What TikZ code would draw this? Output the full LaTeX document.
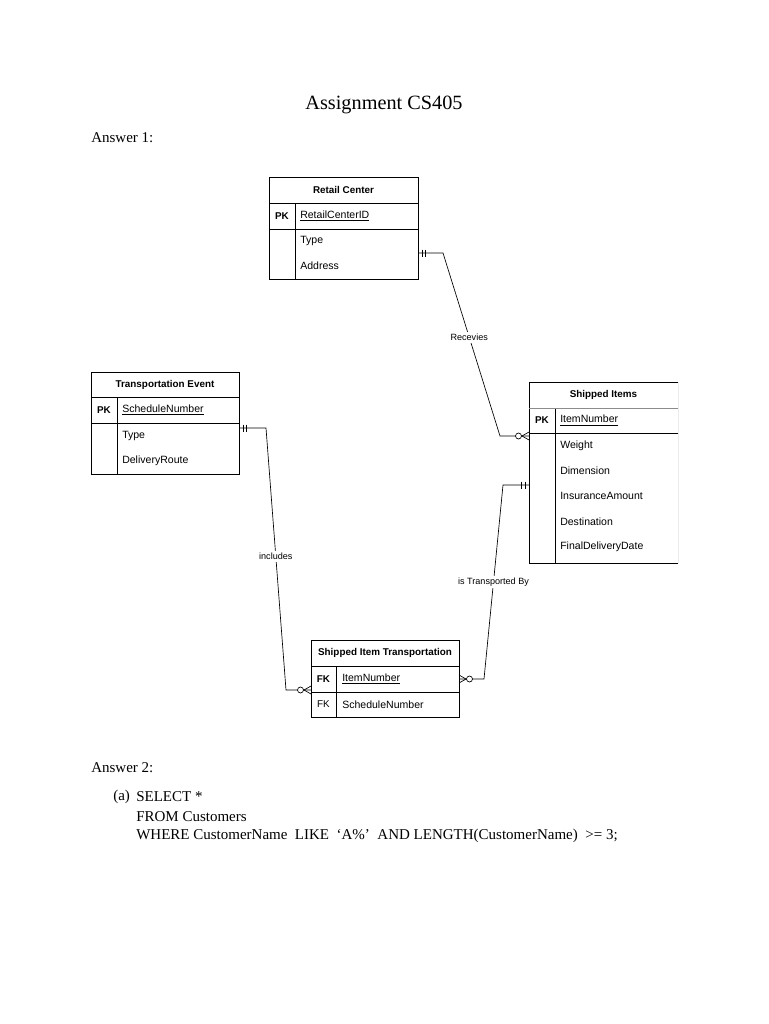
\documentclass[tikz,border=0pt]{standalone}
\usepackage{fontspec}
\setmainfont{Liberation Serif}
\setsansfont{Liberation Sans}
\usetikzlibrary{calc}

\tikzset{
    entity/.style={line width=0.6pt},
    head/.style={font=\sffamily\bfseries\fontsize{7.4}{9}\selectfont, inner sep=0pt},
    key/.style={font=\sffamily\bfseries\fontsize{7.4}{9}\selectfont, inner sep=0pt},
    attr/.style={font=\sffamily\fontsize{7.9}{9}\selectfont, anchor=west, inner sep=0pt},
    body/.style={font=\fontsize{11.25}{14}\selectfont, anchor=west, inner sep=0pt},
    rel/.style={line width=0.5pt},
    rlabel/.style={font=\sffamily\fontsize{6.8}{8}\selectfont, fill=white, inner sep=1.5pt},
    % mandatory one
    pics/onemark/.style={code={
        \draw[rel] (4,-3.5) -- (4,3.5) (7.5,-3.5) -- (7.5,3.5);
    }},
    % zero or many
    pics/manymark/.style={code={
        \draw[rel] (0,-4) -- (7,0) -- (0,4);
        \draw[rel, fill=white] (10.5,0) circle (3);
    }},
}

\begin{document}
\begin{tikzpicture}[x=0.75pt, y=-0.75pt]
    \useasboundingbox[fill=white] (0,0) rectangle (768,1024);

    \node (title) at (384,105) {\fontsize{15.2}{18}\selectfont Assignment CS405};
    \node[body] (ans1) at (91,138) {Answer 1:};

    % Retail Center
    \draw[entity] (269,177) rectangle (418,279);
    \draw[entity] (269,203) -- (418,203) (269,229) -- (418,229) (295,203) -- (295,279);
    \node[head] (rc) at (343.5,190) {Retail Center};
    \node[key] at (282,216) {PK};
    \node[attr] at (300,216) {\underline{RetailCenterID}};
    \node[attr] at (300,241) {Type};
    \node[attr] at (300,266) {Address};
    \coordinate (rc-east) at (418,253);

    % Transportation Event
    \draw[entity] (91,372) rectangle (239,474);
    \draw[entity] (91,397) -- (239,397) (91,423) -- (239,423) (117,397) -- (117,474);
    \node[head] (te) at (165,384.5) {Transportation Event};
    \node[key] at (104,410) {PK};
    \node[attr] at (122,410) {\underline{ScheduleNumber}};
    \node[attr] at (122,436) {Type};
    \node[attr] at (122,461) {DeliveryRoute};
    \coordinate (te-east) at (239,428);

    % Shipped Items
    \draw[entity] (678,382) -- (529,382) -- (529,563) -- (678,563);
    \draw[black!8, line width=0.6pt] (678,382) -- (678,563);
    \draw[entity] (529,433) -- (678,433) (555,408) -- (555,563);
    \draw[entity, black!45] (529,408) -- (678,408);
    \node[head] (si) at (603.5,395) {Shipped Items};
    \node[key] at (542,420.5) {PK};
    \node[attr] at (560,420.5) {\underline{ItemNumber}};
    \foreach \y/\t in {446/Weight, 471/Dimension, 496/InsuranceAmount,
                       522/Destination, 547/FinalDeliveryDate}
        \node[attr] at (560,\y) {\t};
    \coordinate (si-west1) at (529,436);
    \coordinate (si-west2) at (529,485);

    % Shipped Item Transportation
    \draw[entity] (311,640) rectangle (459,717);
    \draw[entity] (311,666) -- (459,666) (311,692) -- (459,692) (336,666) -- (336,717);
    \node[head] (sit) at (385,653) {Shipped Item Transportation};
    \node[key] at (323.5,679) {FK};
    \node[key, font=\sffamily\fontsize{7.4}{9}\selectfont] at (323.5,704.5) {FK};
    \node[attr] at (342,679) {\underline{ItemNumber}};
    \node[attr] at (342,704.5) {ScheduleNumber};
    \coordinate (sit-west) at (311,690);
    \coordinate (sit-east) at (459,679);

    % relationships
    \draw[rel] (rc-east) -- ++(25,0) -- node[rlabel, pos=0.46] {Recevies}
        ($(si-west1)+(-29,0)$) -- (si-west1);
    \draw[rel] (te-east) -- ++(27,0) -- node[rlabel, pos=0.49] {includes}
        ($(sit-west)+(-25,0)$) -- (sit-west);
    \draw[rel] (sit-east) -- ++(25,0) -- node[rlabel, pos=0.5] {is Transported By}
        ($(si-west2)+(-26,0)$) -- (si-west2);

    \pic at (rc-east) {onemark};
    \pic[xscale=-1] at (si-west1) {manymark};
    \pic at (te-east) {onemark};
    \pic[xscale=-1] at (sit-west) {manymark};
    \pic at (sit-east) {manymark};
    \pic[xscale=-1] at (si-west2) {onemark};

    % Answer 2
    \node[body] (ans2) at (91,768) {Answer 2:};
    \node[body] (qa) at (113,797) {(a)};
    \node[body] (sql1) at (136,797) {SELECT *};
    \node[body] (sql2) at (136,816.5) {FROM Customers};
    \node[body] (sql3) at (136,836)
        {WHERE CustomerName\ \ LIKE\ \ ‘A\%’\ \ AND LENGTH(CustomerName)\ \ >= 3;};
\end{tikzpicture}
\end{document}
